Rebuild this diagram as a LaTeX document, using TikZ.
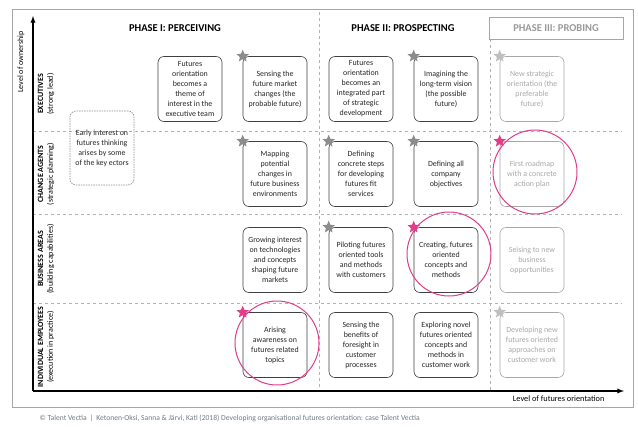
\documentclass[tikz,border=0pt]{standalone}
\usepackage{fontspec}
\setmainfont{Carlito}
\usetikzlibrary{shapes.geometric}
\definecolor{pinkc}{HTML}{E23D8B}
\definecolor{grayt}{HTML}{A8A8A8}
\definecolor{foot}{HTML}{6F7C85}
\hyphenpenalty=10000
\exhyphenpenalty=10000
\begin{document}
\begin{tikzpicture}[x=1pt,y=-1pt,
  card/.style={draw=black!75,rounded corners=6pt,line width=0.6pt,align=center,font=\fontsize{7.9}{10}\selectfont,text=black!85,inner sep=1pt,minimum width=64pt,minimum height=65pt},
  gcard/.style={card,draw=grayt,text=grayt},
  sep/.style={draw=black!30,dashed,line width=0.5pt},
  gstar/.style={star,star points=5,star point ratio=2.2,fill=black!45,minimum size=13pt,inner sep=0pt},
  lstar/.style={gstar,fill=black!25},
  pstar/.style={gstar,fill=pinkc},
  ring/.style={draw=pinkc,line width=1pt},
  rowlab/.style={rotate=90,align=center,font=\fontsize{8}{9.8}\selectfont},
  phase/.style={font=\bfseries\fontsize{10.5}{12}\selectfont}]
\useasboundingbox (0,0) rectangle (638,442);
\fill[white] (0,0) rectangle (638,442);
\draw[black!35,line width=0.6pt] (12,9) rectangle (633,407);
% separators
\draw[sep] (33,131) -- (622,131);
\draw[sep] (33,214) -- (622,214);
\draw[sep] (33,303) -- (622,303);
\draw[sep] (319,12) -- (319,391);
\draw[sep] (490,39) -- (490,391);
% axes
\coordinate (o) at (33,391);
\coordinate (ytop) at (33,16);
\coordinate (xend) at (624,391);
\draw[line width=1.3pt,-latex] (o) -- (ytop);
\draw[line width=1.3pt,-latex] (o) -- (xend);
\node[rotate=90,font=\fontsize{8}{9}\selectfont] (yl) at (21,62) {Level of ownership};
\node[font=\fontsize{8.3}{9}\selectfont,anchor=east] (xl) at (608,399) {Level of futures orientation};
% phases
\node[phase] (p1) at (175,28) {PHASE I: PERCEIVING};
\node[phase] (p2) at (403,28) {PHASE II: PROSPECTING};
\node[phase,draw=black!35,text=black!40,minimum width=134pt,minimum height=22pt,line width=0.5pt] (p3) at (556,28) {PHASE III: PROBING};
% row labels
\node[rowlab] (r1) at (46,94) {\textbf{EXECUTIVES}\\(strong lead)};
\node[rowlab] (r2) at (46,174) {\textbf{CHANGE AGENTS}\\(strategic planning)};
\node[rowlab] (r3) at (46,259) {\textbf{BUSINESS AREAS}\\(building capabilities)};
\node[rowlab] (r4) at (46,347) {\textbf{INDIVIDUAL EMPLOYEES}\\(execution in practice)};
% cards
\node[card,draw=black!45,dash pattern=on 1.5pt off 1pt,minimum height=74pt] (early) at (102,148) {Early interest on\\futures thinking\\arises by some\\of the key ectors};
\node[card] (theme) at (190,89) {Futures\\orientation\\becomes a\\theme of\\interest in the\\executive team};
\node[card] (sense) at (275,89) {Sensing the\\future market\\changes (the\\probable future)};
\node[card] (map) at (275,174) {Mapping\\potential\\changes in\\future business\\environments};
\node[card] (grow) at (275,260) {Growing interest\\on technologies\\and concepts\\shaping future\\markets};
\node[card] (aris) at (275,345) {Arising\\awareness on\\futures related\\topics};
\node[card] (integ) at (361,89) {Futures\\orientation\\becomes an\\integrated part\\of strategic\\development};
\node[card] (imag) at (446,89) {Imagining the\\long-term vision\\(the possible\\future)};
\node[card] (steps) at (361,174) {Defining\\concrete steps\\for developing\\futures fit\\services};
\node[card] (obj) at (446,174) {Defining all\\company\\objectives};
\node[card] (pilot) at (361,260) {Piloting futures\\oriented tools\\and methods\\with customers};
\node[card] (creat) at (446,260) {Creating, futures\\oriented\\concepts and\\methods};
\node[card] (bene) at (361,345) {Sensing the\\benefits of\\foresight in\\customer\\processes};
\node[card] (expl) at (446,345) {Exploring novel\\futures oriented\\concepts and\\methods in\\customer work};
\node[gcard] (newst) at (532,89) {New strategic\\orientation (the\\preferable\\future)};
\node[gcard] (road) at (532,174) {First roadmap\\with a concrete\\action plan};
\node[gcard] (seis) at (532,260) {Seising to new\\business\\opportunities};
\node[gcard] (devn) at (532,345) {Developing new\\futures oriented\\approaches on\\customer work};
% stars
\node[gstar] at (sense.north west) {};
\node[gstar] at (map.north west) {};
\node[pstar] at (aris.north west) {};
\node[gstar] at (imag.north west) {};
\node[gstar] at (steps.north west) {};
\node[gstar] at (obj.north west) {};
\node[gstar] at (pilot.north west) {};
\node[pstar] at (creat.north west) {};
\node[lstar] at (newst.north west) {};
\node[pstar] at (road.north west) {};
\node[lstar] at (devn.north west) {};
% rings
\draw[ring] (277,343) circle (42pt);
\draw[ring] (449,254) circle (42pt);
\draw[ring] (535,172) circle (42pt);
% footer
\node[anchor=west,text=foot,font=\fontsize{7.6}{9}\selectfont] (ft) at (36,418) {© Talent Vectia \,|\, Ketonen-Oksi, Sanna \& Järvi, Kati (2018) Developing organisational futures orientation: case Talent Vectia};
\end{tikzpicture}
\end{document}
